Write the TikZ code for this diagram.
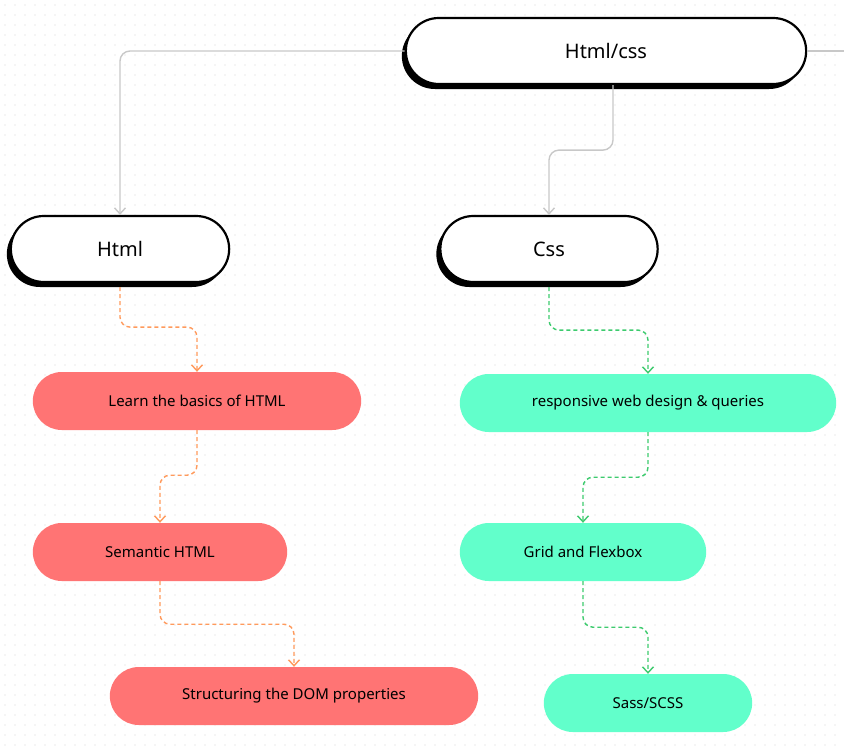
\documentclass[tikz,border=0pt]{standalone}
\usepackage{fontspec}
\setmainfont{Noto Sans}
\usetikzlibrary{arrows.meta,shapes.misc,shadows}

\definecolor{dotgray}{HTML}{D6D6D6}
\definecolor{linkgray}{HTML}{C8C8C8}
\definecolor{htmlred}{HTML}{FF7474}
\definecolor{cssgreen}{HTML}{62FFCB}
\definecolor{htmlorange}{HTML}{FF9A5C}
\definecolor{cssline}{HTML}{3DCB6E}

\tikzset{
  topic/.style={rounded rectangle, draw=black, line width=2.2pt, fill=white,
    general shadow={fill=black, shadow xshift=-4pt, shadow yshift=-5pt},
    font=\bfseries\fontsize{20}{24}\selectfont, minimum height=66pt},
  step/.style={rounded rectangle, draw=none, fill=#1,
    font=\fontsize{15}{18}\selectfont, minimum height=58pt},
  link/.style={draw=linkgray, line width=1.4pt, rounded corners=10pt,
    -{Straight Barb[length=6pt, width=11pt]}},
  dashlink/.style={draw=#1, line width=1.4pt, dash pattern=on 4pt off 3pt,
    rounded corners=10pt, -{Straight Barb[length=6pt, width=11pt]}}
}

\begin{document}
\begin{tikzpicture}[x=1pt, y=-1pt]

% background and dot grid
\fill[white] (0,0) rectangle (844,747);
\useasboundingbox (0,0) rectangle (844,747);
\foreach \x in {5,15,...,845}
  \foreach \y in {5,15,...,745}
    \fill[dotgray] (\x,\y) circle (0.6pt);

% main topics
\node[topic, minimum width=407pt] (htmlcss) at (606,51) {Html/css};
\node[topic, minimum width=225pt] (html) at (120,249) {Html};
\node[topic, minimum width=224pt] (css) at (549,249) {Css};

% html steps
\node[step=htmlred, minimum width=335pt] (basics) at (197,401) {Learn the basics of HTML};
\node[step=htmlred, minimum width=261pt] (semantic) at (160,552) {Semantic HTML};
\node[step=htmlred, minimum width=375pt] (dom) at (294,696) {Structuring the DOM properties};

% css steps
\node[step=cssgreen, minimum width=383pt] (responsive) at (648,403) {responsive web design \& queries};
\node[step=cssgreen, minimum width=253pt] (grid) at (583,552) {Grid and Flexbox};
\node[step=cssgreen, minimum width=215pt] (sass) at (648,703) {Sass/SCSS};

% grey links
\draw[link] (htmlcss.west) -| (html.north);
\draw[link] ([xshift=7pt]htmlcss.south) -- ++(0,65) -| (css.north);
\draw[draw=linkgray, line width=1.4pt] (htmlcss.east) -- (844,51);

% dashed links
\draw[dashlink=htmlorange] ([yshift=-4pt]html.south) -- ++(0,40) -| (basics.north);
\draw[dashlink=htmlorange] (basics.south) -- ++(0,45) -| (semantic.north);
\draw[dashlink=htmlorange] (semantic.south) -- ++(0,43) -| (dom.north);
\draw[dashlink=cssline] ([yshift=-4pt]css.south) -- ++(0,43) -| (responsive.north);
\draw[dashlink=cssline] (responsive.south) -- ++(0,45) -| (grid.north);
\draw[dashlink=cssline] (grid.south) -- ++(0,46) -| (sass.north);

\end{tikzpicture}
\end{document}
